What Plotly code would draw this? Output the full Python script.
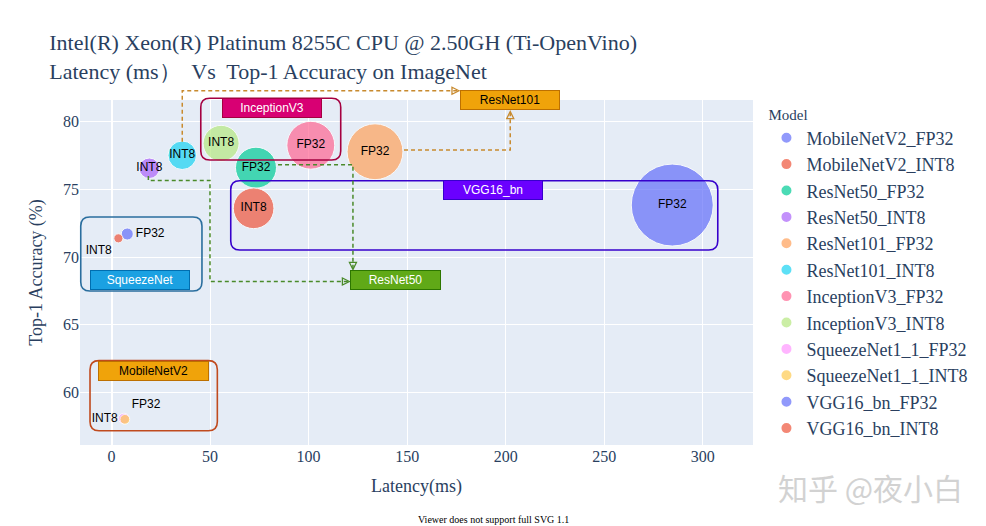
import plotly.graph_objects as go

# ---------------- data ----------------
models = ["MobileNetV2_FP32", "MobileNetV2_INT8", "ResNet50_FP32", "ResNet50_INT8",
          "ResNet101_FP32", "ResNet101_INT8", "InceptionV3_FP32", "InceptionV3_INT8",
          "SqueezeNet1_1_FP32", "SqueezeNet1_1_INT8", "VGG16_bn_FP32", "VGG16_bn_INT8"]
latency_ms = [8.0, 3.5, 73.3, 19.2, 133.7, 35.9, 101.1, 55.6, 6.3, 6.8, 284.5, 72.1]
top1_acc = [71.70, 71.38, 76.60, 76.56, 77.78, 77.52, 78.26, 78.40, 58.06, 58.00, 73.84, 73.60]
bubble_size = [11.5, 6.6, 132, 33, 245, 64, 180, 102, 9.2, 7.6, 528, 130]
precision = ["FP32", "INT8", "FP32", "INT8", "FP32", "INT8", "FP32", "INT8", "FP32", "INT8", "FP32", "INT8"]

# ---------------- style ----------------
colors = ["#636EFA", "#EF553B", "#00CC96", "#AB63FA", "#FFA15A", "#19D3F3",
          "#FF6692", "#B6E880", "#FF97FF", "#FECB52", "#636EFA", "#EF553B"]
text_pos = ["middle right", "bottom left", "middle center", "middle center",
            "middle center", "middle center", "middle center", "middle center",
            "top right", "middle left", "middle center", "middle center"]

SERIF = "Liberation Serif, Times New Roman, serif"
SANS = "Liberation Sans, Arial, Helvetica, sans-serif"

XR = [-15.98, 325.47]
YR = [56.105, 81.604]
W, H = 673, 345  # plot area in px
MAX_D = 82
sizeref = 2.0 * max(bubble_size) / (MAX_D ** 2)

fig = go.Figure()
for i, m in enumerate(models):
    fig.add_trace(go.Scatter(
        x=[latency_ms[i]], y=[top1_acc[i]], name=m, mode="markers+text",
        text=[precision[i]], textposition=text_pos[i],
        textfont=dict(family=SANS, size=12, color="#000000"),
        marker=dict(size=[bubble_size[i]], sizemode="area", sizeref=sizeref,
                    color=colors[i], opacity=0.7, line=dict(width=1, color="white")),
        legendgroup=m, showlegend=True,
    ))


def px(x):
    return (x - XR[0]) / (XR[1] - XR[0])


def py(y):
    return (y - YR[0]) / (YR[1] - YR[0])


shapes = []
annotations = []


def rrect(x0, y0, x1, y1, color, r=9, w=1.6):
    X0, X1 = px(x0), px(x1)
    Yb, Yt = py(min(y0, y1)), py(max(y0, y1))
    rx, ry = r / W, r / H
    path = (f"M {X0+rx},{Yt} L {X1-rx},{Yt} Q {X1},{Yt} {X1},{Yt-ry} "
            f"L {X1},{Yb+ry} Q {X1},{Yb} {X1-rx},{Yb} L {X0+rx},{Yb} "
            f"Q {X0},{Yb} {X0},{Yb+ry} L {X0},{Yt-ry} Q {X0},{Yt} {X0+rx},{Yt} Z")
    shapes.append(dict(type="path", xref="paper", yref="paper", path=path,
                       line=dict(color=color, width=w), layer="above"))


def label(text, xc, yc, fill, border, fcolor, width=100, height=20):
    annotations.append(dict(text=text, x=px(xc), y=py(yc), xref="paper", yref="paper",
                            showarrow=False, width=width - 2, height=height - 2,
                            bgcolor=fill, bordercolor=border, borderwidth=1, borderpad=0,
                            font=dict(family=SANS, size=12, color=fcolor),
                            xanchor="center", yanchor="middle", align="center",
                            valign="middle"))


def arrow(pts, color, direction):
    P = [(px(a), py(b)) for a, b in pts]
    path = "M " + " L ".join(f"{a},{b}" for a, b in P)
    shapes.append(dict(type="path", xref="paper", yref="paper", path=path,
                       line=dict(color=color, width=1.5, dash="4px,3px"), layer="above"))
    tx, ty = P[-1]
    L, S = 7, 3.5
    if direction == "right":
        pts2 = [(tx, ty), (tx - L / W, ty + S / H), (tx - L / W, ty - S / H)]
    elif direction == "up":
        pts2 = [(tx, ty), (tx - S / W, ty - L / H), (tx + S / W, ty - L / H)]
    else:  # down
        pts2 = [(tx, ty), (tx - S / W, ty + L / H), (tx + S / W, ty + L / H)]
    tri = "M " + " L ".join(f"{a},{b}" for a, b in pts2) + " Z"
    shapes.append(dict(type="path", xref="paper", yref="paper", path=tri,
                       line=dict(color=color, width=1.3), fillcolor="rgba(0,0,0,0)",
                       layer="above"))


# group outlines
rrect(45.3, 77.17, 116.3, 81.73, "#A50040")
rrect(60.5, 70.52, 307.6, 75.64, "#3700CC")
rrect(-15.6, 67.49, 45.9, 72.96, "#2A6E9E")
rrect(-10.9, 57.16, 53.7, 62.34, "#C04A1E")

# connector arrows
OR = "#C88A2E"
GR = "#4A8A2A"
arrow([(35.9, 78.52), (35.9, 82.29), (176.3, 82.29)], OR, "right")
arrow([(148.4, 77.91), (202.3, 77.91), (202.3, 80.75)], OR, "up")
arrow([(18.7, 75.99), (18.7, 75.65), (49.97, 75.65), (49.97, 68.19), (120.7, 68.19)], GR, "right")
arrow([(84.5, 76.82), (122.5, 76.82), (122.5, 69.08)], GR, "down")

# group labels
label("InceptionV3", 81.5, 81.01, "#D80073", "#A50040", "#FFFFFF")
label("ResNet101", 202.4, 81.58, "#F0A30A", "#BD7000", "#000000")
label("VGG16_bn", 193.6, 74.93, "#6A00FF", "#3700CC", "#FFFFFF")
label("SqueezeNet", 14.6, 68.33, "#1BA1E2", "#006EAF", "#FFFFFF")
label("ResNet50", 143.9, 68.30, "#60A917", "#2D7600", "#FFFFFF", width=91)
label("MobileNetV2", 21.5, 61.60, "#F0A30A", "#BD7000", "#000000", width=111)

# footer texts
annotations.append(dict(text="Viewer does not support full SVG 1.1", xref="paper", yref="paper",
                        x=(493 - 80) / W, y=(445 - 519) / H, showarrow=False,
                        xanchor="center", yanchor="middle",
                        font=dict(family=SERIF, size=10, color="#000000")))
annotations.append(dict(text="知乎 @夜小白", xref="paper", yref="paper",
                        x=(870 - 80) / W, y=(445 - 487) / H, showarrow=False,
                        xanchor="center", yanchor="middle",
                        font=dict(family="Noto Sans CJK SC", size=30, color="#d2d2d2")))

fig.update_layout(
    width=986, height=526,
    margin=dict(l=80, r=233, t=100, b=81),
    font=dict(family=SERIF, size=16, color="#2a3f5f"),
    title=dict(text="Intel(R) Xeon(R) Platinum 8255C CPU @ 2.50GH (Ti-OpenVino)<br>"
                    "Latency (ms）\u00a0 Vs\u00a0 Top-1 Accuracy on ImageNet",
               x=0.05, xanchor="left", y=0.905, yanchor="top", yref="container",
               font=dict(family=SERIF, size=22, color="#2a3f5f")),
    xaxis=dict(range=XR, title=dict(text="Latency(ms)", font=dict(size=18)),
               tickvals=[0, 50, 100, 150, 200, 250, 300], tickfont=dict(size=16)),
    yaxis=dict(range=YR, title=dict(text="Top-1 Accuracy (%)", font=dict(size=18)),
               tickvals=[60, 65, 70, 75, 80], tickfont=dict(size=16)),
    legend=dict(title=dict(text="Model", font=dict(size=15)), font=dict(size=18),
                tracegroupgap=0, itemsizing="constant", maxheight=480),
    shapes=shapes, annotations=annotations,
    plot_bgcolor="#E5ECF6", paper_bgcolor="white",
)

fig.write_html("out.html", config={"displayModeBar": False},
               post_script="document.body.style.margin='0px';")
